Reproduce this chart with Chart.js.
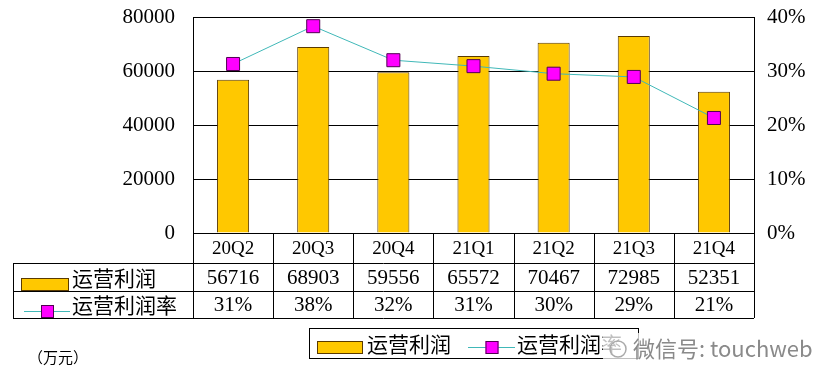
<!DOCTYPE html>
<html>
<head>
<meta charset="utf-8">
<script src="https://cdn.jsdelivr.net/npm/chart.js@4.4.0/dist/chart.umd.min.js"></script>
<style>
  html, body { margin: 0; padding: 0; background: #fff; }
  #wrap { width: 821px; height: 386px; position: relative; }
</style>
</head>
<body>
<div id="wrap"><canvas id="chart" width="821" height="386"></canvas></div>
<script>
// quarters, operating profit (万元) and operating margin (%)
const quarters = ["20Q2", "20Q3", "20Q4", "21Q1", "21Q2", "21Q3", "21Q4"];
const profit = [56716, 68903, 59556, 65572, 70467, 72985, 52351];
const margin = [31.3, 38.3, 32.0, 30.9, 29.5, 28.9, 21.3];
const profitTicks = [0, 20000, 40000, 60000, 80000];
const marginTicks = [0, 10, 20, 30, 40];

const barLabel = "运营利润";
const lineLabel = "运营利润率";

const BAR_COLOR = "#ffc800";
const BAR_BORDER = "#5a3a00";
const LINE_COLOR = "#40b8b8";
const MARK_COLOR = "#ff00ff";
const MARK_BORDER = "#500050";
const NUM_FONT = "21px 'Liberation Serif', serif";
const CAT_FONT = "19px 'Liberation Serif', serif";
const CJK_FONT = "21px 'Noto Sans CJK SC', sans-serif";

function drawBarSwatch(ctx, x, y, w, h) {
  ctx.fillStyle = BAR_COLOR;
  ctx.fillRect(x, y, w, h);
  ctx.strokeStyle = BAR_BORDER;
  ctx.lineWidth = 1;
  ctx.strokeRect(x + 0.5, y + 0.5, w - 1, h - 1);
}

function drawLineSwatch(ctx, x, y, w) {
  ctx.strokeStyle = LINE_COLOR;
  ctx.lineWidth = 1;
  ctx.beginPath();
  ctx.moveTo(x, y + 0.5);
  ctx.lineTo(x + w, y + 0.5);
  ctx.stroke();
  const cx = x + w / 2;
  ctx.fillStyle = MARK_COLOR;
  ctx.fillRect(cx - 6, y - 6, 13, 13);
  ctx.strokeStyle = MARK_BORDER;
  ctx.strokeRect(cx - 6 + 0.5, y - 6 + 0.5, 12, 12);
}

// keep the plot box where the reference has it
function fixAxis(width) {
  return scale => {
    scale.width = width;
    scale.paddingTop = 0;
    scale.paddingBottom = 0;
  };
}

// data table, legend and notes under the plot
const tablePlugin = {
  id: "tablePlugin",
  afterDraw(chart) {
    const ctx = chart.ctx;
    const area = chart.chartArea;
    const n = quarters.length;
    const colW = (area.right - area.left) / n;
    const r0 = area.bottom, r1 = 263, r2 = 291, r3 = 318;
    const tableLeft = 13;

    ctx.save();
    ctx.strokeStyle = "#000";
    ctx.lineWidth = 1;
    ctx.beginPath();
    // horizontal lines
    ctx.moveTo(area.left, r0 + 0.5); ctx.lineTo(area.right, r0 + 0.5);
    [r1, r2, r3].forEach(y => { ctx.moveTo(tableLeft, y + 0.5); ctx.lineTo(area.right, y + 0.5); });
    // vertical lines
    ctx.moveTo(tableLeft + 0.5, r1); ctx.lineTo(tableLeft + 0.5, r3);
    for (let i = 0; i <= n; i++) {
      const x = Math.round(area.left + i * colW) + 0.5;
      ctx.moveTo(x, r0); ctx.lineTo(x, r3);
    }
    ctx.stroke();

    ctx.fillStyle = "#000";
    ctx.textAlign = "center";
    ctx.textBaseline = "middle";
    quarters.forEach((q, i) => {
      const cx = area.left + (i + 0.5) * colW;
      ctx.font = CAT_FONT;
      ctx.fillText(q, cx, (r0 + r1) / 2 + 1);
      ctx.font = NUM_FONT;
      ctx.fillText(String(profit[i]), cx, (r1 + r2) / 2 + 1);
      ctx.fillText(Math.round(margin[i]) + "%", cx, (r2 + r3) / 2 + 1);
    });

    // row headers
    drawBarSwatch(ctx, 21, 278, 48, 13);
    drawLineSwatch(ctx, 24, 311, 46);
    ctx.font = CJK_FONT;
    ctx.textAlign = "left";
    ctx.fillStyle = "#000";
    ctx.fillText(barLabel, 72, (r1 + r2) / 2 + 1);
    ctx.fillText(lineLabel, 72, (r2 + r3) / 2 + 1);

    // legend box
    ctx.strokeStyle = "#000";
    ctx.strokeRect(309.5, 328.5, 329, 30);
    drawBarSwatch(ctx, 317, 341, 46, 13);
    ctx.fillStyle = "#000";
    ctx.fillText(barLabel, 367, 344);
    drawLineSwatch(ctx, 468, 347, 47);
    ctx.fillStyle = "#000";
    ctx.fillText(lineLabel, 517, 344);

    // unit note
    ctx.font = "15px 'Noto Sans CJK SC', sans-serif";
    ctx.fillText("（万元）", 28, 357);

    // watermark
    ctx.globalAlpha = 0.75;
    ctx.fillStyle = "#fff";
    ctx.fillRect(603, 333, 200, 30);
    ctx.globalAlpha = 1;
    ctx.strokeStyle = "#aaa";
    ctx.lineWidth = 1.5;
    ctx.beginPath();
    ctx.arc(618, 349, 8, 0, Math.PI * 2);
    ctx.stroke();
    ctx.fillStyle = "#8a8a8a";
    ctx.font = "22px 'Noto Sans CJK SC', sans-serif";
    ctx.fillText("微信号: touchweb", 633, 349);
    ctx.restore();
  }
};

new Chart(document.getElementById("chart"), {
  type: "bar",
  data: {
    labels: quarters,
    datasets: [
      {
        type: "line",
        label: lineLabel,
        data: margin,
        yAxisID: "y1",
        borderColor: LINE_COLOR,
        borderWidth: 1,
        pointStyle: "rect",
        pointRadius: 9.2,
        pointBackgroundColor: MARK_COLOR,
        pointBorderColor: MARK_BORDER,
        pointBorderWidth: 1,
        tension: 0,
        order: 0
      },
      {
        label: barLabel,
        data: profit,
        yAxisID: "y",
        backgroundColor: BAR_COLOR,
        borderColor: BAR_BORDER,
        borderWidth: 1,
        categoryPercentage: 1,
        barPercentage: 0.4,
        order: 1
      }
    ]
  },
  options: {
    responsive: false,
    animation: false,
    layout: { padding: { top: 17, bottom: 153, left: 0, right: 0 } },
    plugins: { legend: { display: false }, tooltip: { enabled: false } },
    scales: {
      x: { display: false },
      y: {
        position: "left",
        min: 0,
        max: 80000,
        afterFit: fixAxis(193),
        afterBuildTicks(scale) { scale.ticks = profitTicks.map(v => ({ value: v })); },
        ticks: { color: "#000", font: { family: "'Liberation Serif', serif", size: 21 }, padding: 18, callback: v => String(v) },
        grid: { color: "#000", drawTicks: false },
        border: { color: "#000" }
      },
      y1: {
        position: "right",
        min: 0,
        max: 40,
        afterFit: fixAxis(67),
        afterBuildTicks(scale) { scale.ticks = marginTicks.map(v => ({ value: v })); },
        ticks: { color: "#000", font: { family: "'Liberation Serif', serif", size: 21 }, padding: 13, callback: v => v + "%" },
        grid: { drawOnChartArea: false, drawTicks: false },
        border: { color: "#000" }
      }
    }
  },
  plugins: [tablePlugin]
});
</script>
</body>
</html>
